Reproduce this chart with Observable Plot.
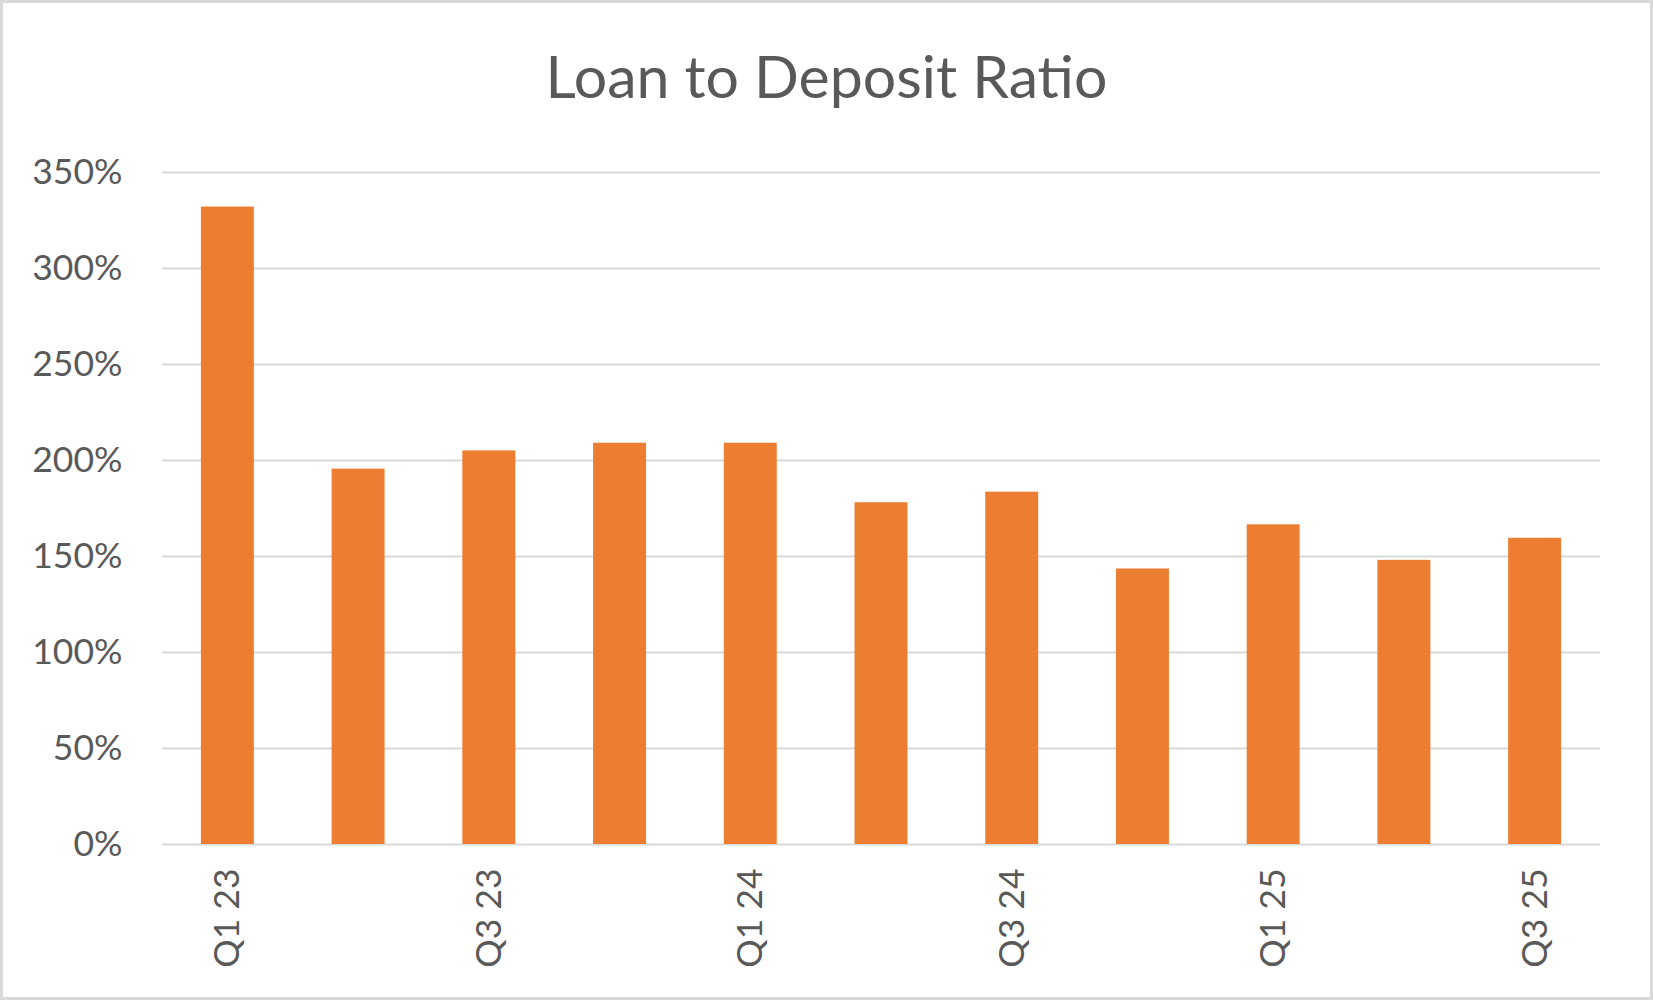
<!DOCTYPE html>
<html>
<head>
<meta charset="utf-8">
<script src="https://cdn.jsdelivr.net/npm/d3@7"></script>
<script src="https://cdn.jsdelivr.net/npm/@observablehq/plot@0.6"></script>
<style>
  html, body { margin: 0; padding: 0; background: #ffffff; }
  #chart { position: relative; width: 1653px; height: 1000px; background: #ffffff; overflow: hidden; }
  #title {
    box-sizing: border-box; height: 130px; padding-top: 46px;
    font-family: Lato, sans-serif; font-size: 59px; line-height: 1;
    color: #595959; text-align: center; white-space: nowrap;
  }
  #frame {
    position: absolute; left: 0; top: 0; width: 1653px; height: 1000px;
    box-sizing: border-box; border: 3px solid #d9d9d9; pointer-events: none;
  }
  svg { display: block; }
</style>
</head>
<body>
<div id="chart">
  <div id="title">Loan to Deposit Ratio</div>
  <div id="plot"></div>
  <div id="frame"></div>
</div>
<script>
// Data
const quarters = ["Q1 23", "Q2 23", "Q3 23", "Q4 23", "Q1 24", "Q2 24", "Q3 24", "Q4 24", "Q1 25", "Q2 25", "Q3 25"];
const ratios = [332, 195.5, 205, 209, 209, 178, 183.5, 143.5, 166.5, 148, 159.5];
const xTickLabels = ["Q1 23", "Q3 23", "Q1 24", "Q3 24", "Q1 25", "Q3 25"];
const yTicks = [0, 50, 100, 150, 200, 250, 300, 350];

const data = quarters.map((q, i) => ({quarter: q, ratio: ratios[i]}));

const chart = Plot.plot({
  width: 1653,
  height: 870,
  marginTop: 42,
  marginBottom: 156,
  marginLeft: 162,
  marginRight: 53,
  style: {fontFamily: "Lato, sans-serif", fontSize: "35.5px", color: "#595959", background: "#ffffff", overflow: "visible"},
  x: {domain: quarters, paddingInner: 0.595, paddingOuter: 0.2975, round: false, label: null},
  y: {domain: [0, 350], label: null},
  marks: [
    Plot.ruleY(yTicks, {stroke: "#d9d9d9", strokeWidth: 2}),
    Plot.barY(data, {x: "quarter", y: "ratio", fill: "#ED7D31"}),
    Plot.axisY({ticks: yTicks, tickFormat: d => d + "%", tickSize: 0, tickPadding: 40, label: null}),
    Plot.axisX({ticks: xTickLabels, tickRotate: -90, tickSize: 0, tickPadding: 24, label: null})
  ]
});
document.getElementById("plot").appendChild(chart);
</script>
</body>
</html>
